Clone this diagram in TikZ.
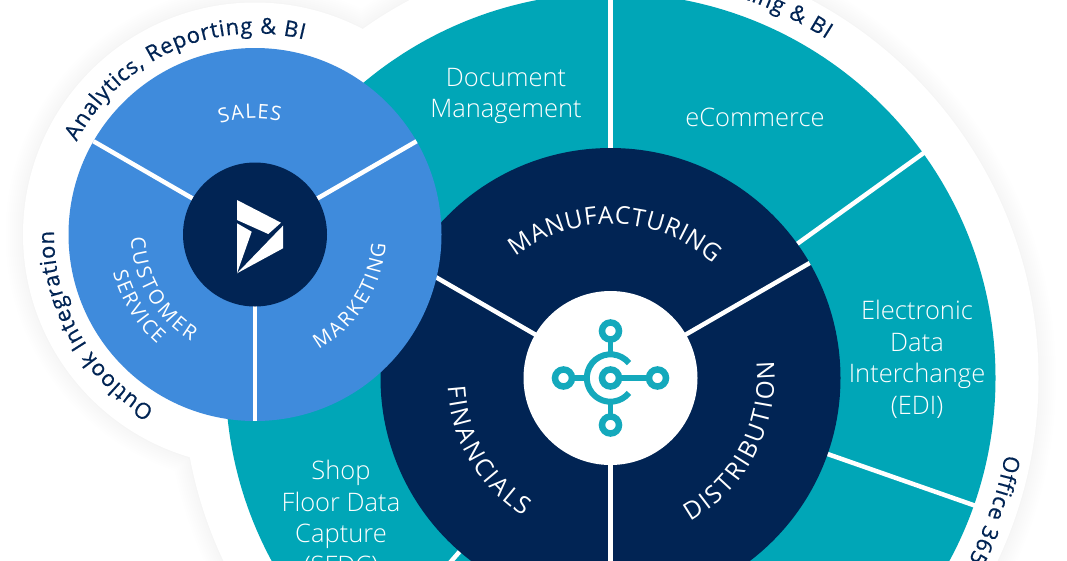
\documentclass[tikz,border=0pt]{standalone}
\usepackage{fontspec}
\setmainfont{Open Sans}
\newfontfamily\lightfont{Open Sans Light}
\newfontfamily\semifont[FakeBold=0.5]{Open Sans}
\usetikzlibrary{decorations.text}
\definecolor{tealc}{HTML}{00A6B7}
\definecolor{navyc}{HTML}{012454}
\definecolor{bluec}{HTML}{3F8BDC}
\definecolor{iconc}{HTML}{14A9BC}
\tikzset{
  curve/.style n args={2}{decorate,decoration={text along path,text={|#1|#2},text align={fit to path}}},
  sep/.style={draw=white,line width=4.5pt},
  tealtext/.style={text=white,font=\lightfont\fontsize{25.5}{31.5}\selectfont,align=center,inner sep=0pt},
  iconline/.style={draw=iconc,line width=5.5pt},
  iconring/.style={draw=iconc,line width=6.5pt,fill=white}
}
\newcommand{\ringfont}{\color{navyc}\semifont\fontsize{22}{25}\selectfont}
\newcommand{\darkfont}{\color{white}\fontsize{24.5}{28}\selectfont}
\newcommand{\bluefont}{\color{white}\fontsize{20}{22}\selectfont}
\begin{document}
\begin{tikzpicture}[x=1pt,y=1pt]
\useasboundingbox (0,-560) rectangle (1067,0);
\clip (0,-560) rectangle (1067,0);
\fill[white] (0,-560) rectangle (1067,0);
\coordinate (big) at (610.5,-378);
\coordinate (blu) at (255,-234.5);
% soft shadow
\foreach \d in {17,15,...,1}{
  \pgfmathsetmacro\g{4*(1-\d/18)}
  \fill[black!\g] (big) circle[radius=428+\d];
  \fill[black!\g] (blu) circle[radius=232+\d];
}
\fill[white] (big) circle[radius=428];
\fill[white] (blu) circle[radius=232];
% outer teal disc
\fill[tealc] (big) circle[radius=385];
\draw[sep] (big) ++(90:230) -- ++(90:160);
\draw[sep] (big) ++(35.7:228) -- ++(35.7:159);
\draw[sep] (big) ++(-19.3:228) -- ++(-19.3:159);
\draw[sep] (big) ++(229:228) -- ++(229:159);
% navy ring
\fill[navyc] (big) circle[radius=230];
\draw[sep] (big) ++(30:85) -- ++(30:145);
\draw[sep] (big) ++(150:85) -- ++(150:145);
\draw[sep] (big) ++(270:85) -- ++(270:145);
\fill[white] (big) circle[radius=87];
% BC icon
\draw[iconline] (big) ++(90:24) -- ++(90:14);
\draw[iconline] (big) ++(270:24) -- ++(270:14);
\draw[iconline] (big) ++(180:24) -- ++(180:14);
\draw[iconline] (big) -- ++(0:40);
\draw[draw=iconc,line width=6pt] (big) ++(39:23.7) arc[start angle=39,end angle=321,radius=23.7];
\draw[iconring] (big) circle[radius=8.5];
\draw[iconring] (big) ++(0:47) circle[radius=8.5];
\draw[iconring] (big) ++(180:47) circle[radius=8.5];
\draw[iconring] (big) ++(90:47) circle[radius=8.5];
\draw[iconring] (big) ++(270:47) circle[radius=8.5];
% teal labels
\node[tealtext] (doc) at (506,-96) {Document\\Management};
\node[tealtext] (eco) at (755,-117) {eCommerce};
\node[tealtext,anchor=north] (edi) at (917,-300) {Electronic\\Data\\Interchange\\(EDI)};
\node[tealtext,anchor=north] (sfdc) at (341,-460) {Shop\\Floor Data\\Capture\\(SFDC)};
% navy labels
\path[curve={\darkfont}{MANUFACTURING}] ([shift={(128:154)}]big) arc[start angle=128,end angle=48,radius=154];
\path[curve={\darkfont}{FINANCIALS}] ([shift={(183:163)}]big) arc[start angle=183,end angle=238,radius=163];
\path[curve={\darkfont}{DISTRIBUTION}] ([shift={(-61:164)}]big) arc[start angle=-61,end angle=6,radius=164];
% ring labels of big circle
\path[curve={\ringfont}{Analytics, Reporting {\&} BI}] ([shift={(96:402)}]big) arc[start angle=96,end angle=57.5,radius=402];
\path[curve={\ringfont}{Office 365}] ([shift={(-11:402)}]big) arc[start angle=-11,end angle=-27,radius=402];
% blue disc
\fill[bluec] (blu) circle[radius=186.5];
\draw[sep] (blu) ++(30:70) -- ++(30:116.5);
\draw[sep] (blu) ++(150:70) -- ++(150:116.5);
\draw[sep] (blu) ++(270:70) -- ++(270:116.5);
\fill[navyc] (blu) circle[radius=72];
% Dynamics logo
\fill[white] (237,-200) -- (281,-222.7) -- (268.3,-234) -- (237,-220) -- cycle;
\fill[white] (237,-223.3) -- (251.7,-231.7) -- (237,-273.3) -- cycle;
\fill[white] (283,-225.7) -- (283,-248.3) -- (237,-273.3) -- cycle;
% blue labels
\path[curve={\bluefont}{SALES}] ([shift={(107.5:116)}]blu) arc[start angle=107.5,end angle=77.5,radius=116];
\path[curve={\bluefont}{CUSTOMER}] ([shift={(181.5:124)}]blu) arc[start angle=181.5,end angle=239,radius=124];
\path[curve={\bluefont}{SERVICE}] ([shift={(195:147)}]blu) arc[start angle=195,end angle=228.5,radius=147];
\path[curve={\bluefont}{MARKETING}] ([shift={(-61:131)}]blu) arc[start angle=-61,end angle=-4,radius=131];
% ring labels of blue circle
\path[curve={\ringfont}{Analytics, Reporting {\&} BI}] ([shift={(152.5:201)}]blu) arc[start angle=152.5,end angle=76,radius=201];
\path[curve={\ringfont}{Outlook Integration}] ([shift={(240:201)}]blu) arc[start angle=240,end angle=179,radius=201];
\end{tikzpicture}
\end{document}
